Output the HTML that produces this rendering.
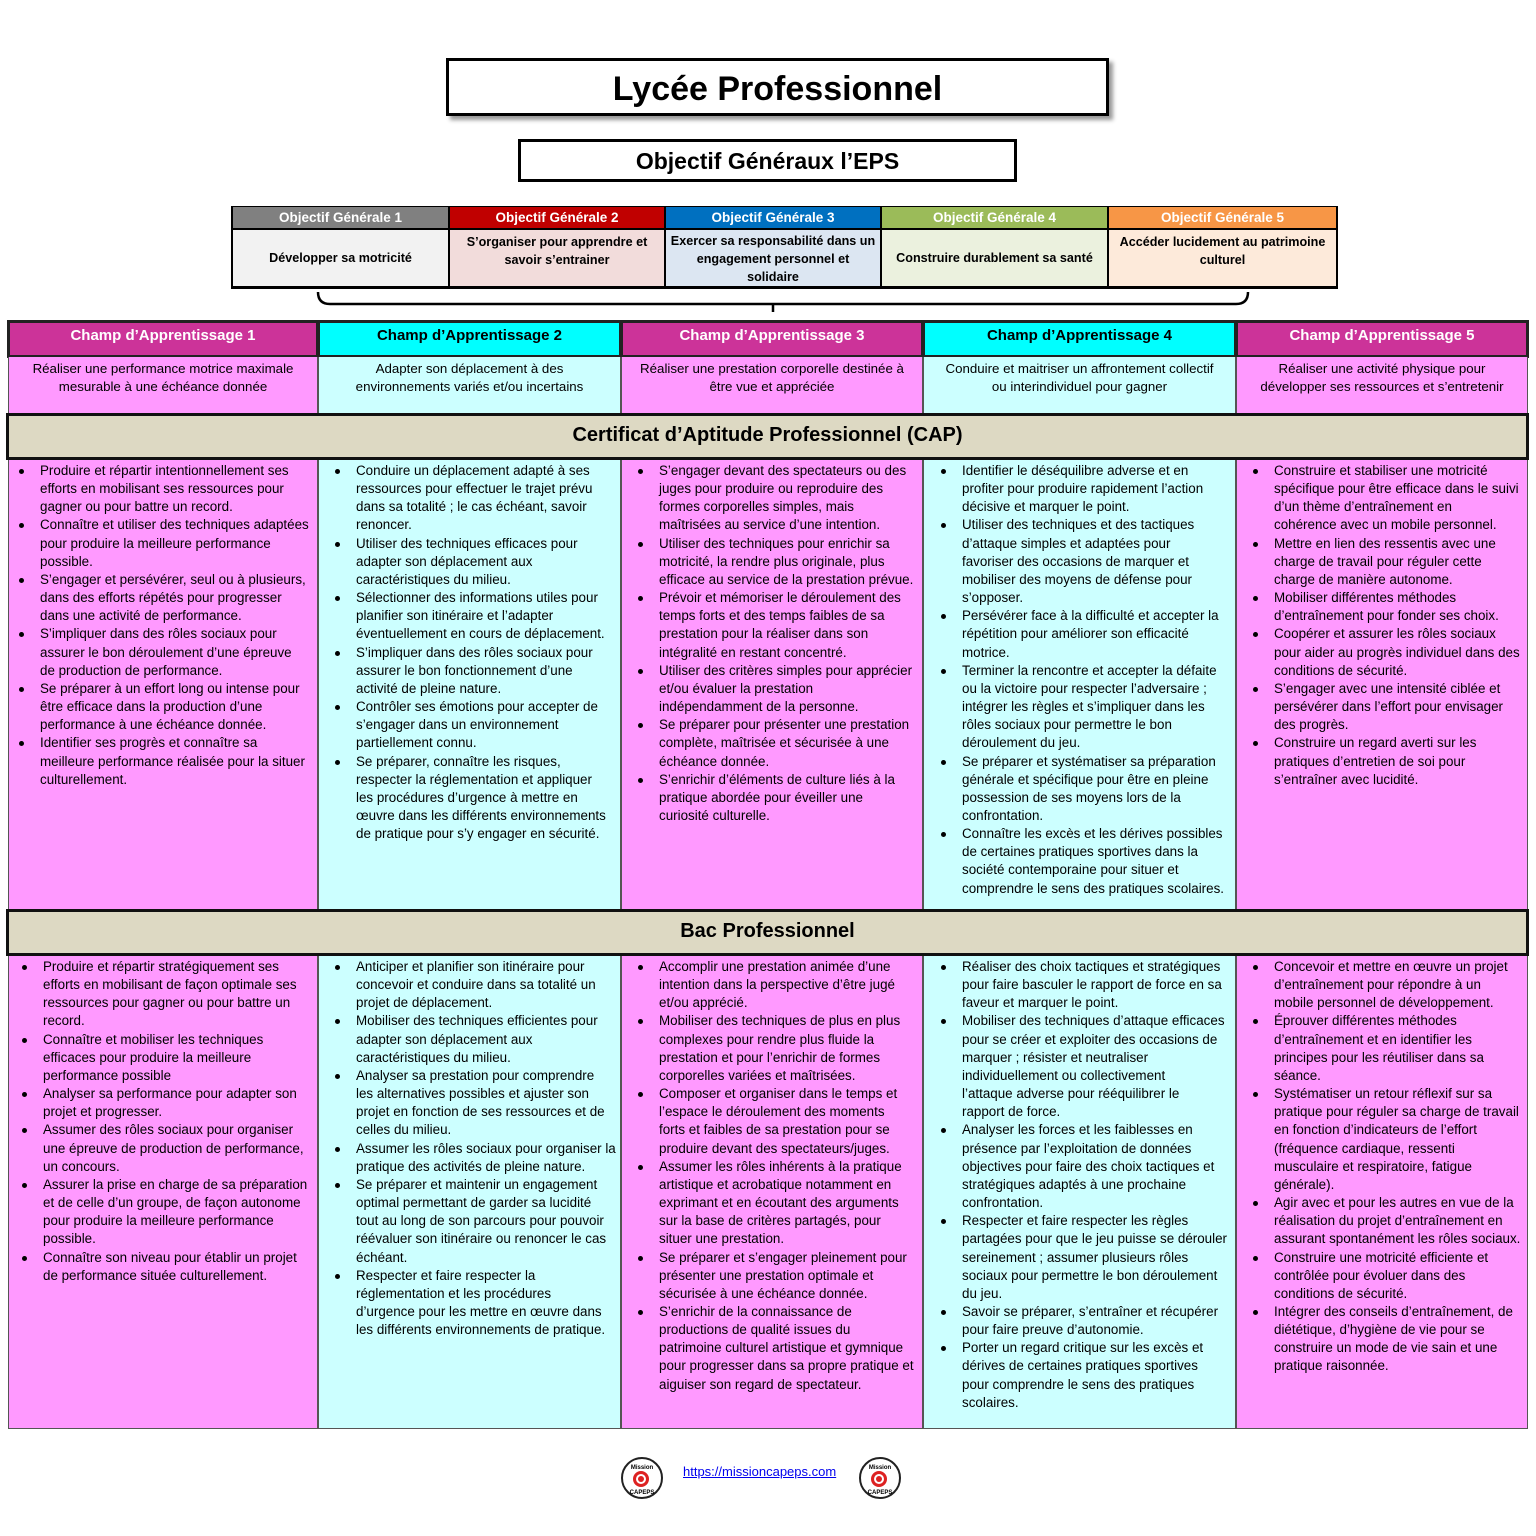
<!DOCTYPE html>
<html><head><meta charset="utf-8">
<style>
*{margin:0;padding:0;box-sizing:border-box}
body{width:1536px;height:1536px;background:#fff;position:relative;font-family:"Liberation Sans",sans-serif;overflow:hidden}
.a{position:absolute}
.t1{left:446px;top:58px;width:663px;height:58px;border:3px solid #000;box-shadow:4px 4px 4px #999;font-size:34px;font-weight:bold;text-align:center;line-height:56px}
.t2{left:518px;top:139px;width:499px;height:43px;border:3px solid #000;font-size:23px;font-weight:bold;text-align:center;line-height:38px}
.og{top:207px;height:81px;font-size:12.6px;font-weight:bold;text-align:center;border-right:2px solid #000}
.og .h{height:23px;line-height:22px;color:#fff;font-size:13.5px;border-bottom:2px solid #000}
.og .b{height:56px;display:flex;align-items:center;justify-content:center;line-height:18px}
.ch{top:320px;height:38px;border:3px solid #222;font-size:15px;font-weight:bold;text-align:center;line-height:26px}
.cd{top:357px;height:56px;font-size:13.3px;text-align:center;line-height:18px;padding-top:3px;border-left:1px solid #555;border-right:1px solid #555;white-space:nowrap}
.band{left:6px;width:1523px;height:47px;border:3px solid #111;background:#ddd9c3;font-size:20px;font-weight:bold;text-align:center;line-height:38px}
.cc{font-size:13.4px;line-height:18.15px;white-space:nowrap;overflow:hidden;border-left:1px solid #555;border-right:1px solid #555;border-bottom:1px solid #555}
.li{position:relative}
.li::before{content:"";position:absolute;left:-21px;top:7px;width:5px;height:5px;border-radius:50%;background:#000}
.P{background:#ff99ff}.C{background:#ccffff}
</style></head><body>
<div class="a t1">Lycée Professionnel</div>
<div class="a t2">Objectif Généraux l’EPS</div>

<div class="a" style="left:231px;top:206px;width:1107px;height:83px;border:3px solid #000"></div>
<div class="a og" style="left:233px;width:217px"><div class="h" style="background:#808080">Objectif Générale 1</div><div class="b" style="background:#f2f2f2">Développer sa motricité</div></div>
<div class="a og" style="left:450px;width:216px"><div class="h" style="background:#c00000">Objectif Générale 2</div><div class="b" style="background:#f2dcdb;align-items:flex-start;padding-top:3px">S’organiser pour apprendre et<br>savoir s’entrainer</div></div>
<div class="a og" style="left:666px;width:216px"><div class="h" style="background:#0070c0">Objectif Générale 3</div><div class="b" style="background:#dce6f2;padding-top:2px">Exercer sa responsabilité dans un<br>engagement personnel et<br>solidaire</div></div>
<div class="a og" style="left:882px;width:227px"><div class="h" style="background:#9bbb59">Objectif Générale 4</div><div class="b" style="background:#ebf1de">Construire durablement sa santé</div></div>
<div class="a og" style="left:1109px;width:227px;border-right:none"><div class="h" style="background:#f79646">Objectif Générale 5</div><div class="b" style="background:#fdeada;align-items:flex-start;padding-top:3px">Accéder lucidement au patrimoine<br>culturel</div></div>

<svg class="a" style="left:0;top:285px" width="1536" height="35"><path d="M318 7 Q318 19 330 19 L1236 19 Q1248 19 1248 7 M773 19 L773 27" fill="none" stroke="#000" stroke-width="2.5"/></svg>

<div class="a ch" style="left:7px;width:312px;background:#cc3399;color:#fff">Champ d’Apprentissage 1</div>
<div class="a ch" style="left:317px;width:305px;background:#00ffff;color:#000">Champ d’Apprentissage 2</div>
<div class="a ch" style="left:620px;width:304px;background:#cc3399;color:#fff">Champ d’Apprentissage 3</div>
<div class="a ch" style="left:922px;width:315px;background:#00ffff;color:#000">Champ d’Apprentissage 4</div>
<div class="a ch" style="left:1235px;width:294px;background:#cc3399;color:#fff">Champ d’Apprentissage 5</div>

<div class="a cd P" style="left:8px;width:310px">Réaliser une performance motrice maximale<br>mesurable à une échéance donnée</div>
<div class="a cd C" style="left:318px;width:303px">Adapter son déplacement à des<br>environnements variés et/ou incertains</div>
<div class="a cd P" style="left:621px;width:302px">Réaliser une prestation corporelle destinée à<br>être vue et appréciée</div>
<div class="a cd C" style="left:923px;width:313px">Conduire et maitriser un affrontement collectif<br>ou interindividuel pour gagner</div>
<div class="a cd P" style="left:1236px;width:292px">Réaliser une activité physique pour<br>développer ses ressources et s’entretenir</div>

<div class="a band" style="top:413px">Certificat d’Aptitude Professionnel (CAP)</div>

<div class="a cc P" style="left:8px;top:460px;width:310px;height:450px;padding:2px 0 0 31px">
<div class="li">Produire et répartir intentionnellement ses<br>efforts en mobilisant ses ressources pour<br>gagner ou pour battre un record.</div>
<div class="li">Connaître et utiliser des techniques adaptées<br>pour produire la meilleure performance<br>possible.</div>
<div class="li">S’engager et persévérer, seul ou à plusieurs,<br>dans des efforts répétés pour progresser<br>dans une activité de performance.</div>
<div class="li">S’impliquer dans des rôles sociaux pour<br>assurer le bon déroulement d’une épreuve<br>de production de performance.</div>
<div class="li">Se préparer à un effort long ou intense pour<br>être efficace dans la production d’une<br>performance à une échéance donnée.</div>
<div class="li">Identifier ses progrès et connaître sa<br>meilleure performance réalisée pour la situer<br>culturellement.</div>
</div>
<div class="a cc C" style="left:318px;top:460px;width:303px;height:450px;padding:2px 0 0 37px">
<div class="li">Conduire un déplacement adapté à ses<br>ressources pour effectuer le trajet prévu<br>dans sa totalité ; le cas échéant, savoir<br>renoncer.</div>
<div class="li">Utiliser des techniques efficaces pour<br>adapter son déplacement aux<br>caractéristiques du milieu.</div>
<div class="li">Sélectionner des informations utiles pour<br>planifier son itinéraire et l’adapter<br>éventuellement en cours de déplacement.</div>
<div class="li">S’impliquer dans des rôles sociaux pour<br>assurer le bon fonctionnement d’une<br>activité de pleine nature.</div>
<div class="li">Contrôler ses émotions pour accepter de<br>s’engager dans un environnement<br>partiellement connu.</div>
<div class="li">Se préparer, connaître les risques,<br>respecter la réglementation et appliquer<br>les procédures d’urgence à mettre en<br>œuvre dans les différents environnements<br>de pratique pour s’y engager en sécurité.</div>
</div>
<div class="a cc P" style="left:621px;top:460px;width:302px;height:450px;padding:2px 0 0 37px">
<div class="li">S’engager devant des spectateurs ou des<br>juges pour produire ou reproduire des<br>formes corporelles simples, mais<br>maîtrisées au service d’une intention.</div>
<div class="li">Utiliser des techniques pour enrichir sa<br>motricité, la rendre plus originale, plus<br>efficace au service de la prestation prévue.</div>
<div class="li">Prévoir et mémoriser le déroulement des<br>temps forts et des temps faibles de sa<br>prestation pour la réaliser dans son<br>intégralité en restant concentré.</div>
<div class="li">Utiliser des critères simples pour apprécier<br>et/ou évaluer la prestation<br>indépendamment de la personne.</div>
<div class="li">Se préparer pour présenter une prestation<br>complète, maîtrisée et sécurisée à une<br>échéance donnée.</div>
<div class="li">S’enrichir d’éléments de culture liés à la<br>pratique abordée pour éveiller une<br>curiosité culturelle.</div>
</div>
<div class="a cc C" style="left:923px;top:460px;width:313px;height:450px;padding:2px 0 0 38px">
<div class="li">Identifier le déséquilibre adverse et en<br>profiter pour produire rapidement l’action<br>décisive et marquer le point.</div>
<div class="li">Utiliser des techniques et des tactiques<br>d’attaque simples et adaptées pour<br>favoriser des occasions de marquer et<br>mobiliser des moyens de défense pour<br>s’opposer.</div>
<div class="li">Persévérer face à la difficulté et accepter la<br>répétition pour améliorer son efficacité<br>motrice.</div>
<div class="li">Terminer la rencontre et accepter la défaite<br>ou la victoire pour respecter l’adversaire ;<br>intégrer les règles et s’impliquer dans les<br>rôles sociaux pour permettre le bon<br>déroulement du jeu.</div>
<div class="li">Se préparer et systématiser sa préparation<br>générale et spécifique pour être en pleine<br>possession de ses moyens lors de la<br>confrontation.</div>
<div class="li">Connaître les excès et les dérives possibles<br>de certaines pratiques sportives dans la<br>société contemporaine pour situer et<br>comprendre le sens des pratiques scolaires.</div>
</div>
<div class="a cc P" style="left:1236px;top:460px;width:292px;height:450px;padding:2px 0 0 37px">
<div class="li">Construire et stabiliser une motricité<br>spécifique pour être efficace dans le suivi<br>d’un thème d’entraînement en<br>cohérence avec un mobile personnel.</div>
<div class="li">Mettre en lien des ressentis avec une<br>charge de travail pour réguler cette<br>charge de manière autonome.</div>
<div class="li">Mobiliser différentes méthodes<br>d’entraînement pour fonder ses choix.</div>
<div class="li">Coopérer et assurer les rôles sociaux<br>pour aider au progrès individuel dans des<br>conditions de sécurité.</div>
<div class="li">S’engager avec une intensité ciblée et<br>persévérer dans l’effort pour envisager<br>des progrès.</div>
<div class="li">Construire un regard averti sur les<br>pratiques d’entretien de soi pour<br>s’entraîner avec lucidité.</div>
</div>

<div class="a band" style="top:909px">Bac Professionnel</div>

<div class="a cc P" style="left:8px;top:956px;width:310px;height:473px;padding:2px 0 0 34px">
<div class="li">Produire et répartir stratégiquement ses<br>efforts en mobilisant de façon optimale ses<br>ressources pour gagner ou pour battre un<br>record.</div>
<div class="li">Connaître et mobiliser les techniques<br>efficaces pour produire la meilleure<br>performance possible</div>
<div class="li">Analyser sa performance pour adapter son<br>projet et progresser.</div>
<div class="li">Assumer des rôles sociaux pour organiser<br>une épreuve de production de performance,<br>un concours.</div>
<div class="li">Assurer la prise en charge de sa préparation<br>et de celle d’un groupe, de façon autonome<br>pour produire la meilleure performance<br>possible.</div>
<div class="li">Connaître son niveau pour établir un projet<br>de performance située culturellement.</div>
</div>
<div class="a cc C" style="left:318px;top:956px;width:303px;height:473px;padding:2px 0 0 37px">
<div class="li">Anticiper et planifier son itinéraire pour<br>concevoir et conduire dans sa totalité un<br>projet de déplacement.</div>
<div class="li">Mobiliser des techniques efficientes pour<br>adapter son déplacement aux<br>caractéristiques du milieu.</div>
<div class="li">Analyser sa prestation pour comprendre<br>les alternatives possibles et ajuster son<br>projet en fonction de ses ressources et de<br>celles du milieu.</div>
<div class="li">Assumer les rôles sociaux pour organiser la<br>pratique des activités de pleine nature.</div>
<div class="li">Se préparer et maintenir un engagement<br>optimal permettant de garder sa lucidité<br>tout au long de son parcours pour pouvoir<br>réévaluer son itinéraire ou renoncer le cas<br>échéant.</div>
<div class="li">Respecter et faire respecter la<br>réglementation et les procédures<br>d’urgence pour les mettre en œuvre dans<br>les différents environnements de pratique.</div>
</div>
<div class="a cc P" style="left:621px;top:956px;width:302px;height:473px;padding:2px 0 0 37px">
<div class="li">Accomplir une prestation animée d’une<br>intention dans la perspective d’être jugé<br>et/ou apprécié.</div>
<div class="li">Mobiliser des techniques de plus en plus<br>complexes pour rendre plus fluide la<br>prestation et pour l’enrichir de formes<br>corporelles variées et maîtrisées.</div>
<div class="li">Composer et organiser dans le temps et<br>l’espace le déroulement des moments<br>forts et faibles de sa prestation pour se<br>produire devant des spectateurs/juges.</div>
<div class="li">Assumer les rôles inhérents à la pratique<br>artistique et acrobatique notamment en<br>exprimant et en écoutant des arguments<br>sur la base de critères partagés, pour<br>situer une prestation.</div>
<div class="li">Se préparer et s’engager pleinement pour<br>présenter une prestation optimale et<br>sécurisée à une échéance donnée.</div>
<div class="li">S’enrichir de la connaissance de<br>productions de qualité issues du<br>patrimoine culturel artistique et gymnique<br>pour progresser dans sa propre pratique et<br>aiguiser son regard de spectateur.</div>
</div>
<div class="a cc C" style="left:923px;top:956px;width:313px;height:473px;padding:2px 0 0 38px">
<div class="li">Réaliser des choix tactiques et stratégiques<br>pour faire basculer le rapport de force en sa<br>faveur et marquer le point.</div>
<div class="li">Mobiliser des techniques d’attaque efficaces<br>pour se créer et exploiter des occasions de<br>marquer ; résister et neutraliser<br>individuellement ou collectivement<br>l’attaque adverse pour rééquilibrer le<br>rapport de force.</div>
<div class="li">Analyser les forces et les faiblesses en<br>présence par l’exploitation de données<br>objectives pour faire des choix tactiques et<br>stratégiques adaptés à une prochaine<br>confrontation.</div>
<div class="li">Respecter et faire respecter les règles<br>partagées pour que le jeu puisse se dérouler<br>sereinement ; assumer plusieurs rôles<br>sociaux pour permettre le bon déroulement<br>du jeu.</div>
<div class="li">Savoir se préparer, s’entraîner et récupérer<br>pour faire preuve d’autonomie.</div>
<div class="li">Porter un regard critique sur les excès et<br>dérives de certaines pratiques sportives<br>pour comprendre le sens des pratiques<br>scolaires.</div>
</div>
<div class="a cc P" style="left:1236px;top:956px;width:292px;height:473px;padding:2px 0 0 37px">
<div class="li">Concevoir et mettre en œuvre un projet<br>d’entraînement pour répondre à un<br>mobile personnel de développement.</div>
<div class="li">Éprouver différentes méthodes<br>d’entraînement et en identifier les<br>principes pour les réutiliser dans sa<br>séance.</div>
<div class="li">Systématiser un retour réflexif sur sa<br>pratique pour réguler sa charge de travail<br>en fonction d’indicateurs de l’effort<br>(fréquence cardiaque, ressenti<br>musculaire et respiratoire, fatigue<br>générale).</div>
<div class="li">Agir avec et pour les autres en vue de la<br>réalisation du projet d’entraînement en<br>assurant spontanément les rôles sociaux.</div>
<div class="li">Construire une motricité efficiente et<br>contrôlée pour évoluer dans des<br>conditions de sécurité.</div>
<div class="li">Intégrer des conseils d’entraînement, de<br>diététique, d’hygiène de vie pour se<br>construire un mode de vie sain et une<br>pratique raisonnée.</div>
</div>

<svg class="a" style="left:620px;top:1456px" width="46" height="46"><circle cx="22" cy="22" r="20" fill="#fff" stroke="#222" stroke-width="2"/><circle cx="21" cy="23" r="8" fill="#d22"/><circle cx="21" cy="23" r="5" fill="#fff"/><circle cx="21" cy="23" r="3" fill="#d22"/><text x="22" y="13" font-size="6" font-weight="bold" text-anchor="middle" font-family="Liberation Sans">Mission</text><text x="22" y="38" font-size="6" font-weight="bold" text-anchor="middle" font-family="Liberation Sans">CAPEPS</text></svg>
<div class="a" style="left:683px;top:1464px;font-size:13px;color:#0000ee;text-decoration:underline">https://missioncapeps.com</div>
<svg class="a" style="left:858px;top:1456px" width="46" height="46"><circle cx="22" cy="22" r="20" fill="#fff" stroke="#222" stroke-width="2"/><circle cx="21" cy="23" r="8" fill="#d22"/><circle cx="21" cy="23" r="5" fill="#fff"/><circle cx="21" cy="23" r="3" fill="#d22"/><text x="22" y="13" font-size="6" font-weight="bold" text-anchor="middle" font-family="Liberation Sans">Mission</text><text x="22" y="38" font-size="6" font-weight="bold" text-anchor="middle" font-family="Liberation Sans">CAPEPS</text></svg>
</body></html>
